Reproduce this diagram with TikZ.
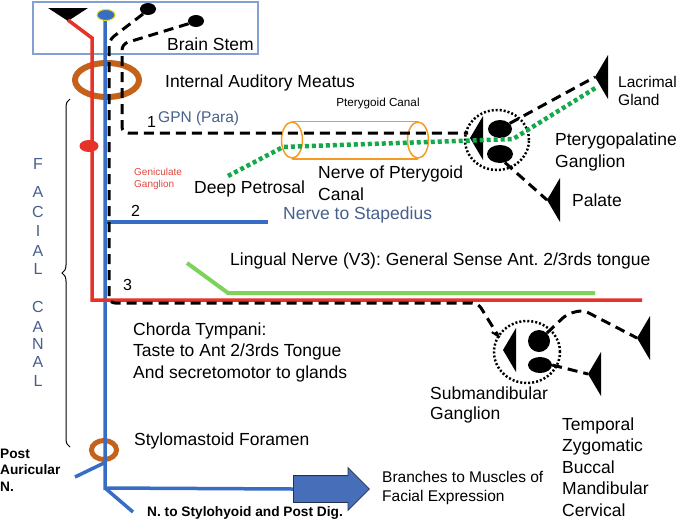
\documentclass[tikz,border=0pt]{standalone}
\usepackage{fontspec}
\setmainfont{Liberation Sans}
\usepackage{tikz}
\usetikzlibrary{shapes, calc, arrows, positioning, decorations.pathreplacing}
\frenchspacing

\definecolor{nerveblue}{RGB}{55,110,195}
\definecolor{nervered}{RGB}{230,50,40}
\definecolor{ringbrown}{RGB}{196,98,28}
\definecolor{canalorange}{RGB}{245,155,35}
\definecolor{sympgreen}{RGB}{20,170,75}
\definecolor{sensgreen}{RGB}{125,210,90}
\definecolor{labelblue}{RGB}{70,95,140}
\definecolor{stembox}{RGB}{130,160,210}
\definecolor{arrowblue}{RGB}{70,110,185}
\definecolor{arrowedge}{RGB}{40,50,80}
\definecolor{gangred}{RGB}{225,70,60}
\definecolor{dotyellow}{RGB}{230,220,40}

\begin{document}
\begin{tikzpicture}[x=1pt, y=-1pt, >=latex,
	lbl/.style={font=\fontsize{17.5}{21.5}\selectfont, inner sep=0pt, anchor=west, align=left},
	smalllbl/.style={lbl, font=\fontsize{15.5}{18.5}\selectfont},
	boldlbl/.style={lbl, font=\fontsize{13.7}{16.5}\selectfont\bfseries},
	numlbl/.style={lbl, font=\fontsize{16}{16}\selectfont},
	facial/.style={draw=nerveblue, line width=3.5pt},
	motor/.style={draw=nervered, line width=3.5pt},
	para/.style={draw=black, line width=3pt, dash pattern=on 10pt off 6pt},
	symp/.style={draw=sympgreen, line width=4.5pt, dash pattern=on 4pt off 3pt},
	sens/.style={draw=sensgreen, line width=4pt},
	ganglion/.style={draw, ellipse, line width=2.5pt, dash pattern=on 2pt off 2pt, inner sep=0pt},
	ring/.style={draw=ringbrown, ellipse, inner sep=0pt},
	canalend/.style={draw=canalorange, ellipse, line width=1.5pt, inner sep=0pt, minimum width=21pt, minimum height=36pt},
	soma/.style={fill, ellipse, inner sep=0pt},
	effector/.pic={\fill (0,0) -- (13,-22) -- (13,22) -- cycle;}
	]
	\useasboundingbox (0,0) rectangle (685,520);

	% brain stem
	\node[draw=stembox, line width=1.2pt, minimum width=225pt, minimum height=52pt, inner sep=0pt] (bsbox) at (145.5,28) {};
	\node[lbl] (bslbl) at (167,44) {Brain Stem};
	\fill (48,8) -- (88,8) -- (68,21) -- cycle;
	\coordinate (umn) at (68,20);
	\node[soma, minimum width=16pt, minimum height=12pt] (bsn1) at (148,9) {};
	\node[soma, minimum width=16pt, minimum height=12pt] (bsn2) at (196,21) {};

	% foramina and canal
	\node[ring, line width=6pt, minimum width=64pt, minimum height=34pt] (iam) at (107,80) {};
	\node[ring, line width=5pt, minimum width=25pt, minimum height=19pt] (smf) at (104,450) {};
	\node[canalend] (cylL) at (292,140) {};
	\node[canalend] (cylR) at (418,140) {};
	\draw[canalorange, line width=1.5pt] (cylL.north) -- (cylR.north) (cylL.south) -- (cylR.south);

	% ganglia
	\node[ganglion, minimum width=64pt, minimum height=60pt] (ptg) at (497,140) {};
	\node[ganglion, minimum width=66pt, minimum height=62pt] (smg) at (527,352) {};
	\foreach \N/\X/\Y in {lacr/595/77, palate/547/200, smgr/637/338, smgl/588/374, ptgtri/470/138, smgtri/503/350} {
		\coordinate (\N) at (\X,\Y);
		\pic at (\N) {effector};
		}
	\node[soma, minimum width=24pt, minimum height=18pt] (ptgup) at (500,129) {};
	\node[soma, minimum width=26pt, minimum height=18pt] (ptglo) at (500,154) {};
	\node[soma, minimum width=22pt, minimum height=22pt] (smgup) at (539,341) {};
	\node[soma, minimum width=24pt, minimum height=16pt] (smglo) at (540,365) {};

	% facial nerve, motor and branches
	\node[single arrow, draw=arrowedge, fill=arrowblue, line width=0.8pt, minimum height=76pt, inner xsep=0pt, inner ysep=13pt, single arrow head extend=8pt, anchor=west] (brarrow) at (293,489) {};
	\draw[facial] (105,15) -- (105,488) -- (brarrow.west);
	\draw[facial] (105,222) -- (268,222);
	\draw[facial] (104,463) -- (75,477);
	\draw[facial] (105,488) -- (133,512);
	\draw[motor] (umn) -- (92,38) -- (92,300) -- (642,300);
	\fill[nervered] (89,146) ellipse (9.5 and 6);
	\node[soma, fill=nerveblue, draw=dotyellow, line width=1pt, minimum width=18pt, minimum height=11pt] (bsdot) at (106,15) {};

	% parasympathetic, dashed
	\coordinate (ptgin) at (468,133);
	\draw[para, rounded corners=6pt] (bsn1.225) -- (109,40) -- (109,303) -- (478,303) -- (smg.150);
	\draw[line width=2pt] (smg.150) ++(-6,-3) -- ++(8,5);
	\draw[para, rounded corners=6pt] (bsn2.200) -- (122,44) -- (122,133) -- (ptgin);
	\draw[para] (ptgup.30) -- (lacr);
	\draw[para] (ptglo.-60) -- (palate);
	\draw[para, rounded corners=6pt] (smgup.45) -- (567,314) -- (583,310) -- (smgr);
	\draw[para] (smglo.east) -- (smgl);

	% sympathetic and sensory, green
	\coordinate (dpstart) at (228,176);
	\draw[symp] (dpstart) -- (283,147) -- (513,139) -- ($(lacr)+(2,10)$);
	\coordinate (lingstart) at (187,263);
	\draw[sens] (lingstart) -- (228,293) -- (595,293);

	% facial canal brace
	\draw[decorate, decoration={brace, amplitude=8pt}, line width=1pt] (70,447) -- (70,99);
	\foreach \L/\Y in {F/164, A/192, C/212, I/231, A/251, L/269, C/307, A/327, N/344, A/362, L/381} {
		\node[font=\fontsize{16}{16}\selectfont, text=labelblue, inner sep=0pt] (fc\Y) at (38,\Y) {\L};
		}

	% labels
	\node[lbl] (iamlbl) at (165,83) {Internal Auditory Meatus};
	\node[numlbl] (n1) at (147,122) {1};
	\node[smalllbl, text=labelblue] (gpn) at (158,118) {GPN (Para)};
	\node[lbl, font=\fontsize{11.7}{14}\selectfont, anchor=center] (ptcl) at (378,103) {Pterygoid Canal};
	\node[lbl, font=\fontsize{10}{12}\selectfont, text=gangred] (gen) at (134,179) {Geniculate\\Ganglion};
	\node[lbl] (dp) at (194,189) {Deep Petrosal};
	\node[lbl, font=\fontsize{17.5}{22.5}\selectfont] (npc) at (318,183) {Nerve of Pterygoid\\Canal};
	\node[smalllbl] (lacrlbl) at (618,91) {Lacrimal\\Gland};
	\node[lbl] (ptglbl) at (555,152) {Pterygopalatine\\Ganglion};
	\node[lbl, right=25pt of palate] (pallbl) {Palate};
	\node[numlbl] (n2) at (131,211) {2};
	\node[lbl, text=labelblue] (stap) at (283,215) {Nerve to Stapedius};
	\node[lbl] (ling) at (230,261) {Lingual Nerve (V3): General Sense Ant. 2/3rds tongue};
	\node[numlbl] (n3) at (123,285) {3};
	\node[lbl] (ct) at (133,352) {Chorda Tympani:\\Taste to Ant 2/3rds Tongue\\And secretomotor to glands};
	\node[lbl, font=\fontsize{17.5}{20.5}\selectfont] (smglbl) at (430,405) {Submandibular\\Ganglion};
	\node[lbl] (brlist) at (562,467) {Temporal\\Zygomatic\\Buccal\\Mandibular\\Cervical};
	\node[smalllbl, font=\fontsize{15.5}{19}\selectfont] (brlbl) at (382,488) {Branches to Muscles of\\Facial Expression};
	\node[lbl] (smflbl) at (134,441) {Stylomastoid Foramen};
	\node[boldlbl] (palbl) at (0,470) {Post\\Auricular\\N.};
	\node[boldlbl] (sthlbl) at (147,513) {N. to Stylohyoid and Post Dig.};
\end{tikzpicture}
\end{document}
